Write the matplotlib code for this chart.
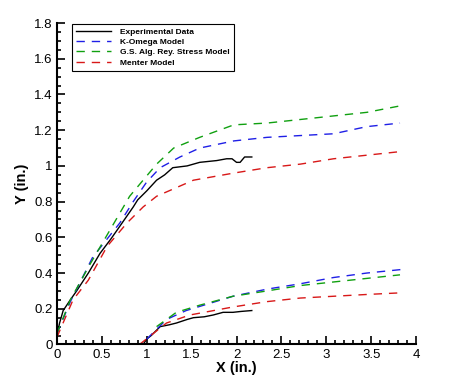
import matplotlib.pyplot as plt
from matplotlib.ticker import MultipleLocator

plt.rcParams['font.family'] = ['Liberation Sans', 'DejaVu Sans']

# upper profiles
exp_up_x = [0, 0.03, 0.07, 0.15, 0.22, 0.35, 0.48, 0.6, 0.67, 0.85, 0.9, 1.0, 1.11, 1.2,
            1.29, 1.45, 1.59, 1.78, 1.89, 1.95, 2.0, 2.04, 2.09, 2.17]
exp_up_y = [0.05, 0.12, 0.19, 0.25, 0.30, 0.40, 0.51, 0.59, 0.64, 0.77, 0.81, 0.86, 0.92, 0.95,
            0.99, 1.00, 1.02, 1.03, 1.04, 1.04, 1.02, 1.02, 1.05, 1.05]
kw_up_x = [0, 0.15, 0.4, 0.7, 0.85, 1.0, 1.15, 1.37, 1.59, 1.97, 2.34, 2.71, 3.08, 3.45, 3.82]
kw_up_y = [0.06, 0.24, 0.49, 0.68, 0.80, 0.91, 0.99, 1.05, 1.10, 1.14, 1.16, 1.17, 1.18, 1.22, 1.24]
gs_up_x = [0, 0.15, 0.37, 0.59, 0.81, 0.96, 1.11, 1.3, 1.59, 1.97, 2.34, 2.71, 3.08, 3.45, 3.86]
gs_up_y = [0.06, 0.25, 0.45, 0.64, 0.83, 0.92, 1.01, 1.10, 1.16, 1.23, 1.24, 1.26, 1.28, 1.30, 1.34]
me_up_x = [0, 0.18, 0.35, 0.56, 0.78, 0.96, 1.11, 1.52, 1.97, 2.34, 2.71, 3.08, 3.45, 3.82]
me_up_y = [0.04, 0.25, 0.36, 0.55, 0.68, 0.77, 0.83, 0.92, 0.96, 0.99, 1.01, 1.04, 1.06, 1.08]

# lower profiles
exp_lo_x = [0.96, 1.0, 1.05, 1.11, 1.15, 1.25, 1.33, 1.45, 1.52, 1.64, 1.74, 1.85, 1.96, 2.05, 2.17]
exp_lo_y = [0.0, 0.03, 0.05, 0.08, 0.10, 0.11, 0.12, 0.14, 0.15, 0.155, 0.165, 0.18, 0.18, 0.185, 0.19]
kw_lo_x = [1.0, 1.22, 1.44, 1.96, 2.34, 2.71, 3.08, 3.45, 3.84]
kw_lo_y = [0.03, 0.14, 0.19, 0.27, 0.31, 0.34, 0.375, 0.40, 0.42]
gs_lo_x = [1.11, 1.33, 1.59, 1.96, 2.34, 2.71, 3.08, 3.45, 3.82]
gs_lo_y = [0.10, 0.18, 0.22, 0.27, 0.30, 0.33, 0.35, 0.37, 0.39]
me_lo_x = [0.92, 1.22, 1.48, 1.96, 2.34, 2.71, 3.08, 3.45, 3.86]
me_lo_y = [0.0, 0.12, 0.165, 0.21, 0.24, 0.26, 0.27, 0.28, 0.29]

labels = ['Experimental Data', 'K-Omega Model', 'G.S. Alg. Rey. Stress Model', 'Menter Model']
colors = ['black', '#1f1fe6', '#10a010', '#d81818']

fig = plt.figure(figsize=(4.74, 3.91), dpi=100)
ax = fig.add_axes([0.12, 0.119, 0.758, 0.822])

dash = (0, (6, 5))
ax.plot(exp_up_x, exp_up_y, color=colors[0], lw=1, label=labels[0])
ax.plot(kw_up_x, kw_up_y, color=colors[1], lw=1, ls=dash, label=labels[1])
ax.plot(gs_up_x, gs_up_y, color=colors[2], lw=1, ls=dash, label=labels[2])
ax.plot(me_up_x, me_up_y, color=colors[3], lw=1, ls=dash, label=labels[3])
ax.plot(exp_lo_x, exp_lo_y, color=colors[0], lw=1)
ax.plot(kw_lo_x, kw_lo_y, color=colors[1], lw=1, ls=dash)
ax.plot(gs_lo_x, gs_lo_y, color=colors[2], lw=1, ls=dash)
ax.plot(me_lo_x, me_lo_y, color=colors[3], lw=1, ls=dash)

ax.set_xlim(0, 4)
ax.set_ylim(0, 1.8)
ax.xaxis.set_major_locator(MultipleLocator(0.5))
ax.xaxis.set_minor_locator(MultipleLocator(0.1))
ax.yaxis.set_major_locator(MultipleLocator(0.2))
ax.yaxis.set_minor_locator(MultipleLocator(0.05))
ax.xaxis.set_major_formatter(plt.FuncFormatter(lambda v, p: f'{v:g}'))
ax.yaxis.set_major_formatter(plt.FuncFormatter(lambda v, p: f'{v:g}'))
ax.tick_params(which='both', direction='in', width=1.2, labelsize=9.5, pad=3)
ax.tick_params(which='major', length=6)
ax.tick_params(which='minor', length=3)
ax.spines['top'].set_visible(False)
ax.spines['right'].set_visible(False)
ax.spines['left'].set_linewidth(1.5)
ax.spines['bottom'].set_linewidth(1.5)

ax.set_xlabel('X (in.)', fontsize=10.5, fontweight='bold', labelpad=0)
ax.set_ylabel('Y (in.)', fontsize=10.5, fontweight='bold', labelpad=4)

leg = ax.legend(loc='upper left', bbox_to_anchor=(0.042, 0.997), fancybox=False,
                edgecolor='black', framealpha=1, prop={'size': 6, 'weight': 'bold'},
                handlelength=4.2, handletextpad=1.1, labelspacing=0.28,
                borderpad=0.5, borderaxespad=0)
leg.get_frame().set_linewidth(0.8)

fig.savefig('out.png', dpi=100)
